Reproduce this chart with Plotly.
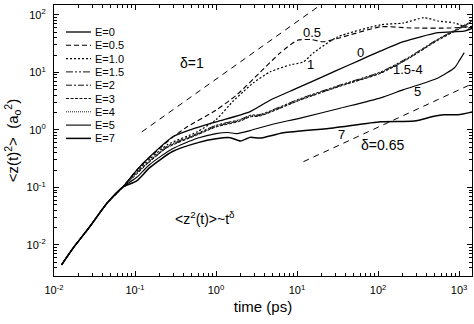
import numpy as np
import plotly.graph_objects as go

# ---------------- data ----------------
t_common = [0.0124, 0.017, 0.0276, 0.045, 0.07]
y_common = [0.0045, 0.0086, 0.0207, 0.053, 0.1]

t_E0 = [0.105, 0.152, 0.29, 0.5, 1.0, 2.6, 4.7, 10, 30, 61, 108, 206, 550, 1150, 1450]
y_E0 = [0.2, 0.34, 0.75, 1.02, 1.38, 2.06, 3.3, 5.3, 10.6, 16.5, 23.5, 34, 49, 52, 58]

t_E05 = [0.105, 0.152, 0.29, 0.44, 1.0, 1.82, 3.5, 6.2, 10.1, 15, 21, 46, 108, 250, 790, 1300, 1450]
y_E05 = [0.2, 0.33, 0.74, 1.13, 2.2, 4.1, 10, 21.8, 36, 37, 34, 45, 62, 59, 59, 62, 63]

t_E1 = [0.105, 0.152, 0.25, 0.58, 1.0, 1.64, 2.17, 2.9, 4.67, 8.3, 12, 16, 31.5, 108, 206, 370, 550, 880, 1300, 1450]
y_E1 = [0.19, 0.31, 0.55, 0.92, 1.5, 3.2, 4.6, 6.6, 10.2, 13.5, 15.2, 21.8, 41, 67, 72, 89, 78, 72, 59, 60]

t_bundle = [0.105, 0.152, 0.25, 0.58, 1.0, 2.0, 2.63, 3.5, 11, 35, 108, 233, 550, 1300, 1450]
y_E15 = [0.18, 0.29, 0.52, 0.86, 1.2, 1.52, 1.8, 1.85, 3.5, 6.1, 10.2, 17.9, 38, 72, 80]
y_E2 = [0.18, 0.28, 0.50, 0.83, 1.15, 1.46, 1.72, 1.78, 3.35, 5.9, 9.8, 17.2, 37, 70, 78]
y_E3 = [0.17, 0.28, 0.49, 0.81, 1.12, 1.42, 1.68, 1.74, 3.3, 5.8, 9.6, 17.0, 36, 69, 77]
y_E4 = [0.18, 0.29, 0.51, 0.84, 1.18, 1.5, 1.76, 1.82, 3.45, 6.0, 10.0, 17.6, 37.5, 71, 79]

t_E5 = [0.105, 0.152, 0.29, 0.6, 1.0, 1.4, 1.82, 2.63, 5, 11, 35, 108, 206, 550, 880, 980, 1160]
y_E5 = [0.15, 0.25, 0.47, 0.72, 0.86, 0.9, 0.86, 0.97, 1.25, 1.6, 2.4, 3.6, 5.0, 8.0, 12, 15, 22]

t_E7 = [0.105, 0.152, 0.29, 0.6, 1.0, 1.5, 2.0, 2.63, 3.5, 6.8, 28, 108, 280, 490, 650, 970, 1450]
y_E7 = [0.13, 0.22, 0.42, 0.6, 0.7, 0.73, 0.64, 0.74, 0.72, 0.89, 1.08, 1.38, 1.42, 1.72, 1.83, 1.83, 2.05]

t_guide1 = [0.121, 19.5]
y_guide1 = [0.92, 148]
t_guide065 = [12, 1480]
y_guide065 = [0.28, 6.4]

series_names = ["E=0", "E=0.5", "E=1.0", "E=1.5", "E=2", "E=3", "E=4", "E=5", "E=7"]
series_t = [t_E0, t_E05, t_E1, t_bundle, t_bundle, t_bundle, t_bundle, t_E5, t_E7]
series_y = [y_E0, y_E05, y_E1, y_E15, y_E2, y_E3, y_E4, y_E5, y_E7]

x_tickvals = [0.01, 0.1, 1, 10, 100, 1000]
x_ticktext = ["10<sup>-2</sup>", "10<sup>-1</sup>", "10<sup>0</sup>", "10<sup>1</sup>", "10<sup>2</sup>", "10<sup>3</sup>"]
y_tickvals = [0.01, 0.1, 1, 10, 100]
y_ticktext = ["10<sup>-2</sup>", "10<sup>-1</sup>", "10<sup>0</sup>", "10<sup>1</sup>", "10<sup>2</sup>"]

curve_labels = ["0.5", "1", "0", "1.5-4", "5", "7", "δ=1", "δ=0.65"]
label_t = [15.5, 14.7, 61, 233, 310, 35, 0.506, 115]
label_y = [48.6, 13.5, 21.8, 11, 4.6, 0.84, 14.6, 0.55]

# ---------------- styles ----------------
dashes = ["solid", "5px,3px", "2px,2px", "7px,2px,2px,2px,2px,2px", "6px,2px,2px,2px",
          "3px,1.5px", "1px,1px", "solid", "solid"]
widths = [1.3, 1.1, 1.2, 1.0, 1.0, 1.0, 1.0, 1.1, 1.5]
colors = ["#000", "#000", "#000", "#111", "#111", "#111", "#222", "#000", "#000"]

FONT = "Liberation Sans, Arial, sans-serif"

fig = go.Figure()
for name, ts, ys, d, w, c in zip(series_names, series_t, series_y, dashes, widths, colors):
    fig.add_trace(go.Scatter(
        x=t_common + ts, y=y_common + ys, mode="lines", name=name,
        line=dict(color=c, width=w, dash=d, shape="spline", smoothing=0.6),
        showlegend=False))

for tg, yg in [(t_guide1, y_guide1), (t_guide065, y_guide065)]:
    fig.add_trace(go.Scatter(x=tg, y=yg, mode="lines", showlegend=False,
                             line=dict(color="#000", width=1, dash="6px,5px")))

# curve labels
for txt, lt, ly in zip(curve_labels, label_t, label_y):
    fig.add_annotation(x=np.log10(lt), y=np.log10(ly), text=txt, showarrow=False,
                       font=dict(family=FONT, size=14 if "δ" in txt else 13, color="#000"))
fig.add_annotation(x=np.log10(0.73), y=np.log10(0.0295),
                   text="&lt;z<sup>2</sup>(t)&gt;~t<sup>δ</sup>", showarrow=False,
                   font=dict(family=FONT, size=14, color="#000"))

# manual compact legend (inside the plot, top-left)
L, R, T, B, W, H = 54, 2, 5, 48, 474, 324
pw, ph = W - L - R, H - T - B
for i, (name, d, w, c) in enumerate(zip(series_names, dashes, widths, colors)):
    py = 32 + 13.3 * i
    yp = (H - B - py) / ph
    fig.add_shape(type="line", xref="paper", yref="paper",
                  x0=(66 - L) / pw, x1=(91 - L) / pw, y0=yp, y1=yp,
                  line=dict(color=c, width=w, dash=d))
    fig.add_annotation(xref="paper", yref="paper", x=(93 - L) / pw, y=yp, text=name,
                       showarrow=False, xanchor="left", yanchor="middle",
                       font=dict(family=FONT, size=11, color="#000"))

axis_common = dict(type="log", showgrid=False, zeroline=False, showline=True,
                   linecolor="#000", linewidth=1.2, mirror="ticks", ticks="inside",
                   ticklen=5, tickwidth=1, tickcolor="#000",
                   tickfont=dict(family=FONT, size=11, color="#000"),
                   minor=dict(dtick="D1", ticks="inside", ticklen=3, tickcolor="#000", showgrid=False))

fig.update_xaxes(**axis_common, range=[-2, 3.16], tickmode="array",
                 tickvals=x_tickvals, ticktext=x_ticktext, ticklabelstandoff=4,
                 title=dict(text="time (ps)", font=dict(family=FONT, size=15, color="#000"), standoff=6))
fig.update_yaxes(**axis_common, range=[-2.54, 2.17], tickmode="array",
                 tickvals=y_tickvals, ticktext=y_ticktext, ticklabelstandoff=5,
                 title=dict(text="&lt;z(t)<sup>2</sup>&gt;  (a<sub>o</sub><sup>2</sup>)",
                            font=dict(family=FONT, size=15, color="#000"), standoff=4))

fig.update_layout(width=W, height=H, margin=dict(l=L, r=R, t=T, b=B),
                  paper_bgcolor="white", plot_bgcolor="white", showlegend=False)

fig.write_html("out.html")
